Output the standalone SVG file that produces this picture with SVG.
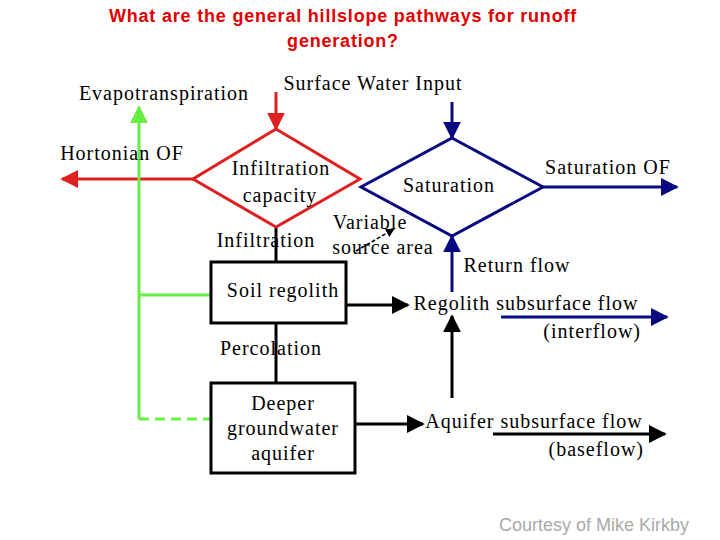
<svg xmlns="http://www.w3.org/2000/svg" width="720" height="540" viewBox="0 0 720 540">
<style>
.t{font-family:"Liberation Serif",serif;font-size:20px;letter-spacing:1px;fill:#000}
.h{font-family:"Liberation Sans",sans-serif;font-size:18px;letter-spacing:0.8px;font-weight:bold;fill:#e00000}
.r{stroke:#e02020;stroke-width:3;fill:none}
.b{stroke:#0a0a80;stroke-width:3;fill:none}
.k{stroke:#000;stroke-width:3;fill:none}
.g{stroke:#66ee44;stroke-width:3;fill:none}
</style>
<defs>
<marker id="mr" viewBox="0 0 10 10" refX="9" refY="5" markerWidth="6" markerHeight="6" orient="auto" markerUnits="strokeWidth"><path d="M0,0L10,5L0,10z" fill="#e02020"/></marker>
<marker id="mb" viewBox="0 0 10 10" refX="9" refY="5" markerWidth="6" markerHeight="6" orient="auto" markerUnits="strokeWidth"><path d="M0,0L10,5L0,10z" fill="#0a0a80"/></marker>
<marker id="mk" viewBox="0 0 10 10" refX="9" refY="5" markerWidth="6" markerHeight="6" orient="auto" markerUnits="strokeWidth"><path d="M0,0L10,5L0,10z" fill="#000"/></marker>
<marker id="mg" viewBox="0 0 10 10" refX="9" refY="5" markerWidth="6" markerHeight="6" orient="auto" markerUnits="strokeWidth"><path d="M0,0L10,5L0,10z" fill="#66ee44"/></marker>
</defs>
<rect width="720" height="540" fill="#fff"/>
<text class="h" x="343" y="22" text-anchor="middle">What are the general hillslope pathways for runoff</text>
<text class="h" x="343" y="47" text-anchor="middle">generation?</text>
<g id="connectors">
<line class="r" x1="276" y1="92" x2="276" y2="129" marker-end="url(#mr)"/>
<line class="r" x1="193" y1="179" x2="62" y2="179" marker-end="url(#mr)"/>
<line class="b" x1="452" y1="102" x2="452" y2="138" marker-end="url(#mb)"/>
<line class="b" x1="543" y1="187" x2="677" y2="187" marker-end="url(#mb)"/>
<line class="b" x1="452" y1="292" x2="452" y2="236" marker-end="url(#mb)"/>
<line class="b" x1="501" y1="317" x2="667" y2="317" marker-end="url(#mb)"/>
<line class="k" x1="276" y1="227" x2="276" y2="262"/>
<line class="k" x1="276" y1="323" x2="276" y2="383"/>
<line class="k" x1="346" y1="305" x2="408" y2="305" marker-end="url(#mk)"/>
<line class="k" x1="452" y1="398" x2="452" y2="316" marker-end="url(#mk)"/>
<line class="k" x1="356" y1="424" x2="423" y2="424" marker-end="url(#mk)"/>
<line class="k" x1="493" y1="434" x2="665" y2="434" marker-end="url(#mk)"/>
<line x1="356" y1="251" x2="394" y2="229" stroke="#000" stroke-width="1.5" stroke-dasharray="4,2" marker-end="url(#mk)"/>
<polyline class="g" points="139,419 139,107" marker-end="url(#mg)"/>
<line class="g" x1="139" y1="295" x2="211" y2="295"/>
<line class="g" x1="139" y1="419" x2="211" y2="419" stroke-dasharray="10,6"/>
</g>
<g id="infiltration-capacity"><polygon class="r" points="276,129 360,179 276,227 193,179"/>
<text class="t" x="281" y="175" text-anchor="middle">Infiltration</text>
<text class="t" x="280" y="202" text-anchor="middle">capacity</text></g>
<g id="saturation"><polygon class="b" points="452,138 543,187 452,236 361,187"/>
<text class="t" x="449" y="192" text-anchor="middle">Saturation</text></g>
<g id="soil-regolith"><rect class="k" x="211" y="262" width="135" height="61"/>
<text class="t" x="283" y="297" text-anchor="middle">Soil regolith</text></g>
<g id="deeper"><rect class="k" x="211" y="383" width="144" height="90"/>
<text class="t" x="283" y="410" text-anchor="middle">Deeper</text>
<text class="t" x="283" y="435" text-anchor="middle">groundwater</text>
<text class="t" x="283" y="460" text-anchor="middle">aquifer</text></g>
<g id="labels">
<text class="t" x="164" y="100" text-anchor="middle">Evapotranspiration</text>
<text class="t" x="373" y="90" text-anchor="middle">Surface Water Input</text>
<text class="t" x="122" y="160" text-anchor="middle">Hortonian OF</text>
<text class="t" x="608" y="174" text-anchor="middle">Saturation OF</text>
<text class="t" x="266" y="247" text-anchor="middle">Infiltration</text>
<text class="t" x="370" y="229" text-anchor="middle">Variable</text>
<text class="t" x="383" y="254" text-anchor="middle">source area</text>
<text class="t" x="517" y="272" text-anchor="middle">Return flow</text>
<text class="t" x="526" y="310" text-anchor="middle">Regolith subsurface flow</text>
<text class="t" x="641" y="338" text-anchor="end">(interflow)</text>
<text class="t" x="271" y="355" text-anchor="middle">Percolation</text>
<text class="t" x="534" y="428" text-anchor="middle">Aquifer subsurface flow</text>
<text class="t" x="644" y="456" text-anchor="end">(baseflow)</text>
<text x="594" y="531" text-anchor="middle" font-family="Liberation Sans,sans-serif" font-size="18" fill="#aaaaaa">Courtesy of Mike Kirkby</text>
</g>
</svg>
